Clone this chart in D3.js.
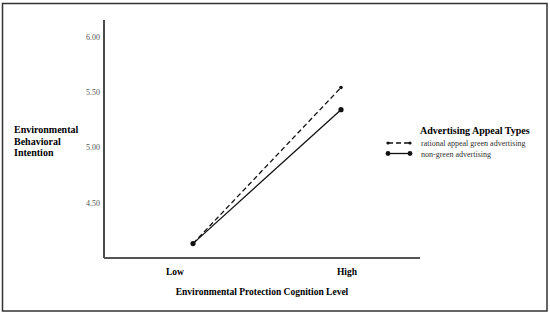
<!DOCTYPE html>
<html>
<head>
<meta charset="utf-8">
<script src="https://cdn.jsdelivr.net/npm/d3@7"></script>
<style>
  body { margin: 0; background: #fff; }
  text { font-family: "Liberation Serif", "Times New Roman", serif; }
</style>
</head>
<body>
<div id="chart"></div>
<script>
// datos del gráfico
var levels = ["Low", "High"];
var seriesNames = ["rational appeal green advertising", "non-green advertising"];
var rationalValues = [4.13, 5.54];
var nonGreenValues = [4.13, 5.34];
var yTicks = [4.5, 5.0, 5.5, 6.0];

var width = 550;
var height = 314;

var svg = d3.select("#chart")
  .append("svg")
  .attr("width", width)
  .attr("height", height);

// marco exterior
svg.append("rect")
  .attr("x", 2.5).attr("y", 3.5)
  .attr("width", 544.5).attr("height", 307.5)
  .attr("fill", "none")
  .attr("stroke", "#333")
  .attr("stroke-width", 1.5);

var plotLeft = 104, plotRight = 420, plotTop = 20, plotBottom = 258;

var x = d3.scalePoint().domain(levels).range([193, 341]);
var y = d3.scaleLinear().domain([4.0, 6.15]).range([plotBottom, plotTop]);

// eje Y
var yAxis = d3.axisLeft(y).tickValues(yTicks).tickFormat(d3.format(".2f")).tickSize(0).tickPadding(4);
var gy = svg.append("g").attr("transform", "translate(" + plotLeft + ",0)").call(yAxis);
gy.select(".domain").remove();
gy.selectAll("text")
  .attr("font-size", 8)
  .attr("fill", "#555")
  .style("font-family", "Liberation Serif, serif");

svg.append("line")
  .attr("x1", plotLeft).attr("x2", plotLeft)
  .attr("y1", plotTop).attr("y2", plotBottom)
  .attr("stroke", "#111").attr("stroke-width", 1.5);

// eje X
svg.append("line")
  .attr("x1", plotLeft).attr("x2", plotRight)
  .attr("y1", plotBottom).attr("y2", plotBottom)
  .attr("stroke", "#555").attr("stroke-width", 2);

var xLabelPos = { "Low": 175, "High": 347 };
svg.selectAll(".xlab")
  .data(levels)
  .enter()
  .append("text")
  .attr("class", "xlab")
  .attr("x", d => xLabelPos[d])
  .attr("y", 275)
  .attr("text-anchor", "middle")
  .attr("font-size", 9.5)
  .attr("font-weight", "bold")
  .text(d => d);

svg.append("text")
  .attr("x", 262)
  .attr("y", 295)
  .attr("text-anchor", "middle")
  .attr("font-size", 9.5)
  .attr("font-weight", "bold")
  .text("Environmental Protection Cognition Level");

// título eje Y
var yTitle = svg.append("text")
  .attr("x", 14)
  .attr("y", 133)
  .attr("font-size", 10)
  .attr("font-weight", "bold");
["Environmental", "Behavioral", "Intention"].forEach((t, i) => {
  yTitle.append("tspan").attr("x", 14).attr("dy", i === 0 ? 0 : 11.5).text(t);
});

// líneas
var line = d3.line()
  .x((d, i) => x(levels[i]))
  .y(d => y(d));

svg.append("path")
  .datum(rationalValues)
  .attr("d", line)
  .attr("fill", "none")
  .attr("stroke", "#111")
  .attr("stroke-width", 1.3)
  .attr("stroke-dasharray", "5,3");

svg.append("path")
  .datum(nonGreenValues)
  .attr("d", line)
  .attr("fill", "none")
  .attr("stroke", "#111")
  .attr("stroke-width", 1.3);

svg.selectAll(".ptR")
  .data(rationalValues)
  .enter()
  .append("circle")
  .attr("cx", (d, i) => x(levels[i]))
  .attr("cy", d => y(d))
  .attr("r", 1.8)
  .attr("fill", "#111");

svg.selectAll(".ptN")
  .data(nonGreenValues)
  .enter()
  .append("circle")
  .attr("cx", (d, i) => x(levels[i]))
  .attr("cy", d => y(d))
  .attr("r", 2.6)
  .attr("fill", "#111");

// leyenda
svg.append("text")
  .attr("x", 420)
  .attr("y", 134)
  .attr("font-size", 10)
  .attr("font-weight", "bold")
  .text("Advertising Appeal Types");

var legend = svg.selectAll(".leg")
  .data(seriesNames)
  .enter()
  .append("g")
  .attr("transform", (d, i) => "translate(0," + (143 + i * 10.5) + ")");

legend.append("line")
  .attr("x1", 388).attr("x2", 410)
  .attr("y1", 0).attr("y2", 0)
  .attr("stroke", "#111")
  .attr("stroke-width", 1.3)
  .attr("stroke-dasharray", (d, i) => i === 0 ? "5,3" : null);

legend.selectAll("circle")
  .data((d, i) => [[388, i], [410, i]])
  .enter()
  .append("circle")
  .attr("cx", d => d[0])
  .attr("cy", 0)
  .attr("r", d => d[1] === 0 ? 1.6 : 2.4)
  .attr("fill", "#111");

legend.append("text")
  .attr("x", 421)
  .attr("y", 3)
  .attr("font-size", 8)
  .attr("fill", "#333")
  .text(d => d);
</script>
</body>
</html>
